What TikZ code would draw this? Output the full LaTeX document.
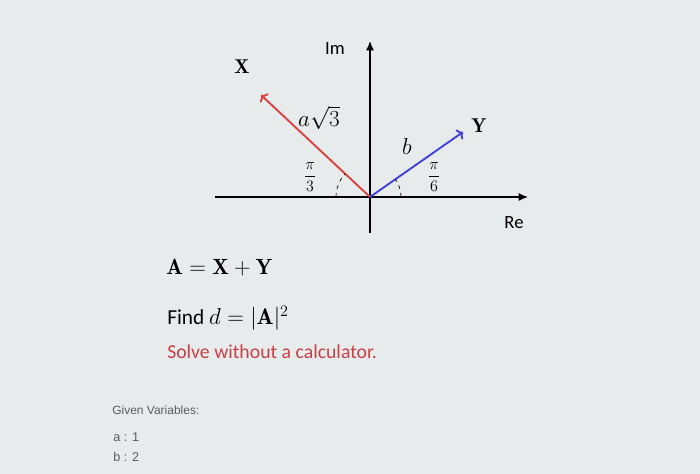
\documentclass[tikz,border=0pt]{standalone}
\usepackage{fontspec}
\usepackage{amsmath}
\newfontfamily\calibri{Carlito}
\newfontfamily\arial{Liberation Sans}
\usetikzlibrary{arrows.meta}
\definecolor{paper}{rgb}{0.91,0.92,0.92}
\definecolor{vecred}{rgb}{0.85,0.25,0.25}
\definecolor{vecblue}{rgb}{0.25,0.25,0.85}
\definecolor{hintred}{rgb}{0.78,0.25,0.28}
\definecolor{givengray}{rgb}{0.35,0.36,0.38}
\begin{document}
\begin{tikzpicture}[x=0.75pt,y=-0.75pt]
        \tikzstyle{axis}=[line width=0.9pt, -{Latex[length=7pt,width=6pt]}]
        \tikzstyle{vec}=[line width=1.4pt, -{To[length=4pt,width=9pt]}]
        \tikzstyle{anglearc}=[dashed, line width=0.5pt]
        \tikzstyle{axislabel}=[font=\calibri\fontsize{14}{16}\selectfont]
        \tikzstyle{veclabel}=[font=\fontsize{15}{17}\selectfont\bfseries]
        \tikzstyle{textline}=[anchor=west, inner sep=0pt]
        % background and frame
        \fill[paper] (0,0) rectangle (700,474);
        \useasboundingbox (0,0) rectangle (700,474);
        % axes
        \coordinate (O) at (370,197);
        \coordinate (reStart) at (215,197);
        \coordinate (reEnd) at (528,197);
        \coordinate (imBot) at (370,233);
        \coordinate (imTop) at (370,41);
        \draw[axis] (reStart) -- (reEnd);
        \draw[axis] (imBot) -- (imTop);
        \node[axislabel] (im) at (335,49) {Im};
        \node[axislabel] (re) at (514,223) {Re};
        % vectors
        \coordinate (xTip) at (261,95);
        \coordinate (yTip) at (463,132);
        \draw[vec, vecred] (O) -- (xTip);
        \draw[vec, vecblue] (O) -- (yTip);
        \node[veclabel] (xlab) at (242,67) {$\mathbf{X}$};
        \node[veclabel] (ylab) at (479,126) {$\mathbf{Y}$};
        \node (alab) at (319,118) {\fontsize{17}{19}\selectfont$a\sqrt{3}$};
        \node (blab) at (407,147) {\fontsize{17}{19}\selectfont$b$};
        % angles (y axis points down, so angles run the other way)
        \draw[anglearc] ([shift={(180:34)}]O) arc[start angle=180, end angle=223, radius=34];
        \draw[anglearc] ([shift={(0:31)}]O) arc[start angle=0, end angle=-35, radius=31];
        \node (pi3) at (310,177) {\fontsize{12}{14}\selectfont$\dfrac{\pi}{3}$};
        \node (pi6) at (434,177) {\fontsize{12}{14}\selectfont$\dfrac{\pi}{6}$};
        % text
        \node[textline] (sum) at (166,268) {\fontsize{16.5}{18}\selectfont$\mathbf{A}=\mathbf{X}+\mathbf{Y}$};
        \node[textline] (find) at (167,318) {\calibri\fontsize{16}{18}\selectfont Find \fontsize{17}{19}\selectfont$d=|\mathbf{A}|^2$};
        \node[textline, text=hintred] (hint) at (167,352) {\calibri\fontsize{14.8}{16}\selectfont Solve without a calculator.};
        \node[textline, text=givengray] (given) at (112,410) {\arial\fontsize{9}{11}\selectfont Given Variables:};
        \node[textline, text=givengray] (vara) at (113,437) {\arial\fontsize{9.5}{11}\selectfont a : 1};
        \node[textline, text=givengray] (varb) at (113,457) {\arial\fontsize{9.5}{11}\selectfont b : 2};
\end{tikzpicture}
\end{document}
